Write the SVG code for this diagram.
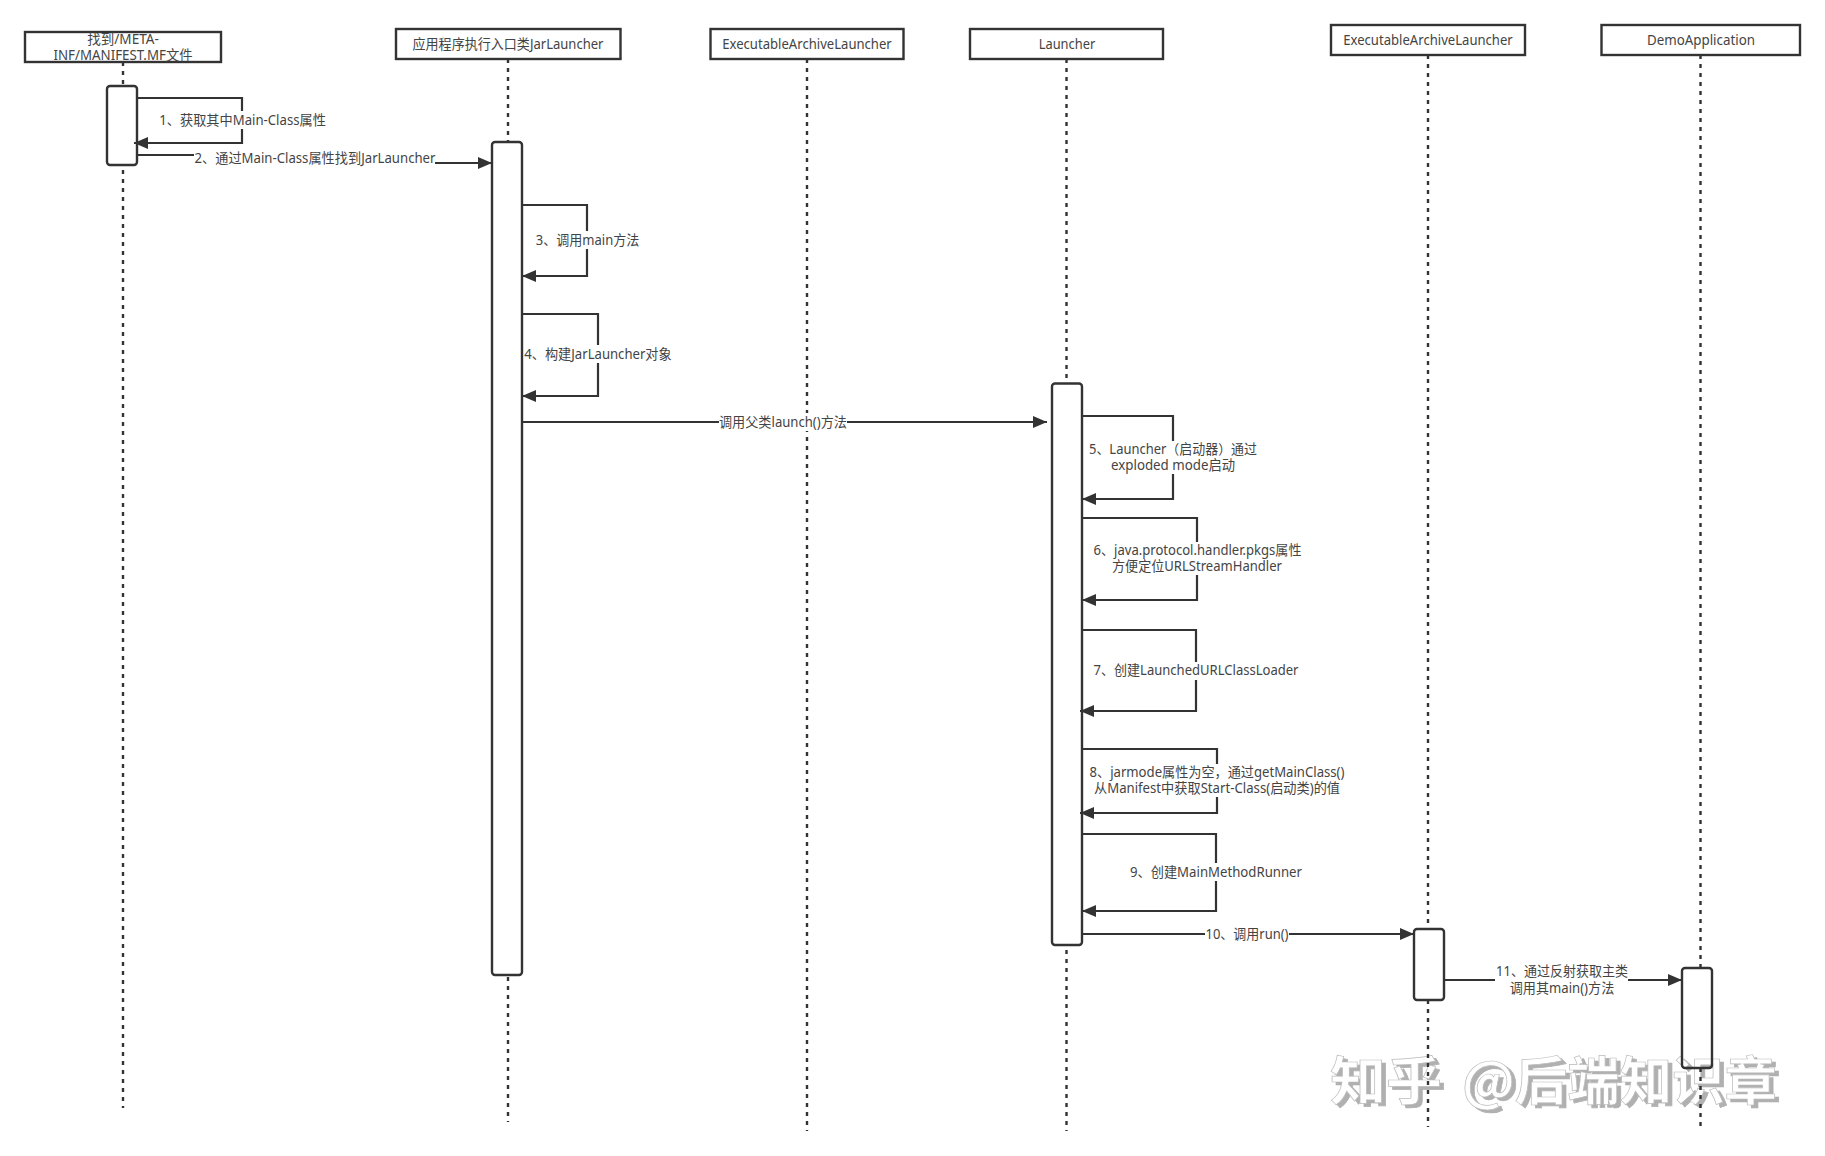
<svg xmlns="http://www.w3.org/2000/svg" width="1825" height="1156" viewBox="0 0 1825 1156">
<style>
text{font-family:"Noto Sans","Noto Sans CJK SC",sans-serif;font-size:13.5px;fill:#444;text-anchor:middle}
.box{fill:#fff;stroke:#333;stroke-width:2.4}
.act{fill:#fff;stroke:#333;stroke-width:2.4}
.life{stroke:#333;stroke-width:2.4;stroke-dasharray:4 5;fill:none}
.c{fill:none;stroke:#333;stroke-width:2.2;marker-end:url(#ah)}
.bg{fill:#fff}
text.wm{font-family:"Noto Sans CJK SC",sans-serif;font-size:52px;font-weight:700;text-anchor:start;fill:#fff;stroke:#bbb;stroke-width:0.7;filter:url(#wmshadow)}
</style>
<defs>
<marker id="ah" markerUnits="userSpaceOnUse" markerWidth="15" markerHeight="14" refX="14" refY="7" orient="auto"><path d="M0 1L14 7L0 13Z" fill="#333"/></marker>
<filter id="wmshadow" filterUnits="userSpaceOnUse" x="1320" y="1040" width="480" height="80"><feDropShadow dx="4" dy="3" stdDeviation="0" flood-color="#b0b0b0"/></filter>
</defs>
<rect width="1825" height="1156" fill="#fff"/>
<g id="watermark">
<text class="wm" y="1100"><tspan x="1330" textLength="112" lengthAdjust="spacingAndGlyphs">知乎</tspan> <tspan x="1462" textLength="315" lengthAdjust="spacingAndGlyphs">@后端知识章</tspan></text>
</g>
<g id="node-manifest">
<line class="life" x1="123" y1="62" x2="123" y2="1108"/>
<rect class="box" x="25" y="32" width="196" height="30"/>
<rect class="act" x="107" y="86" width="30" height="79" rx="3"/>
<text x="123" y="43.800" textLength="71.500" lengthAdjust="spacingAndGlyphs">找到/META-</text>
<text x="123" y="59.800" textLength="139" lengthAdjust="spacingAndGlyphs">INF/MANIFEST.MF文件</text>
</g>
<g id="node-jarlauncher">
<line class="life" x1="508" y1="59" x2="508" y2="1122"/>
<rect class="box" x="396" y="29" width="224.500" height="30"/>
<rect class="act" x="492" y="142" width="30" height="833" rx="3"/>
<text x="508" y="49" textLength="191" lengthAdjust="spacingAndGlyphs">应用程序执行入口类JarLauncher</text>
</g>
<g id="node-executable-1">
<line class="life" x1="807" y1="59" x2="807" y2="1131"/>
<rect class="box" x="710.500" y="29" width="193" height="30"/>
<text x="807" y="49" textLength="169.500" lengthAdjust="spacingAndGlyphs">ExecutableArchiveLauncher</text>
</g>
<g id="node-launcher">
<line class="life" x1="1066.500" y1="59" x2="1066.500" y2="1131"/>
<rect class="box" x="970" y="29" width="193" height="30"/>
<rect class="act" x="1052" y="383.500" width="30" height="561.500" rx="3"/>
<text x="1067" y="49" textLength="56.600" lengthAdjust="spacingAndGlyphs">Launcher</text>
</g>
<g id="node-executable-2">
<line class="life" x1="1428" y1="55" x2="1428" y2="1127"/>
<rect class="box" x="1331" y="25" width="194" height="30"/>
<rect class="act" x="1414" y="929" width="30" height="71" rx="3"/>
<text x="1428" y="45" textLength="169.500" lengthAdjust="spacingAndGlyphs">ExecutableArchiveLauncher</text>
</g>
<g id="node-demo">
<line class="life" x1="1700.500" y1="55" x2="1700.500" y2="968"/>
<line class="life" x1="1700.500" y1="1068" x2="1700.500" y2="1127"/>
<rect class="box" x="1601.500" y="25" width="198.500" height="30"/>
<rect class="act" x="1682" y="968" width="30" height="100" rx="3" style="fill:none"/>
<text x="1701" y="45" textLength="108" lengthAdjust="spacingAndGlyphs">DemoApplication</text>
</g>
<g id="connectors">
<path class="c" d="M137 98H242V143H134"/>
<path class="c" d="M137 155H315V163H492"/>
<path class="c" d="M522 205H587V276H522"/>
<path class="c" d="M522 314H598V396H522"/>
<path class="c" d="M522 422H1047"/>
<path class="c" d="M1082 416H1173V499H1082"/>
<path class="c" d="M1082 518H1197V600H1082"/>
<path class="c" d="M1082 630H1196V711H1080"/>
<path class="c" d="M1082 749H1217V813H1080"/>
<path class="c" d="M1082 834H1216V911H1082"/>
<path class="c" d="M1082 934H1414"/>
<path class="c" d="M1444 980H1682"/>
</g>
<g id="labels">
<rect class="bg" x="159" y="111" width="167" height="18"/>
<text x="242.600" y="125" textLength="166.500" lengthAdjust="spacingAndGlyphs">1、获取其中Main-Class属性</text>
<rect class="bg" x="194" y="149" width="241" height="18"/>
<text x="315" y="163" textLength="241" lengthAdjust="spacingAndGlyphs">2、通过Main-Class属性找到JarLauncher</text>
<rect class="bg" x="535" y="231" width="104" height="18"/>
<text x="587.500" y="245" textLength="103.600" lengthAdjust="spacingAndGlyphs">3、调用main方法</text>
<rect class="bg" x="524" y="345" width="148" height="18"/>
<text x="598" y="359" textLength="147.300" lengthAdjust="spacingAndGlyphs">4、构建JarLauncher对象</text>
<rect class="bg" x="719" y="413" width="128" height="18"/>
<text x="783" y="427" textLength="128" lengthAdjust="spacingAndGlyphs">调用父类launch()方法</text>
<rect class="bg" x="1089" y="441" width="168" height="33"/>
<text x="1173" y="453.800" textLength="168" lengthAdjust="spacingAndGlyphs">5、Launcher（启动器）通过</text>
<text x="1173" y="470.300" textLength="124" lengthAdjust="spacingAndGlyphs">exploded mode启动</text>
<rect class="bg" x="1093" y="542" width="209" height="33"/>
<text x="1197.500" y="554.800" textLength="208" lengthAdjust="spacingAndGlyphs">6、java.protocol.handler.pkgs属性</text>
<text x="1197" y="570.800" textLength="170" lengthAdjust="spacingAndGlyphs">方便定位URLStreamHandler</text>
<rect class="bg" x="1093" y="662" width="205" height="18"/>
<text x="1196" y="675.400" textLength="205" lengthAdjust="spacingAndGlyphs">7、创建LaunchedURLClassLoader</text>
<rect class="bg" x="1089" y="764" width="256" height="33"/>
<text x="1217" y="776.800" textLength="255" lengthAdjust="spacingAndGlyphs">8、jarmode属性为空，通过getMainClass()</text>
<text x="1217" y="792.800" textLength="246" lengthAdjust="spacingAndGlyphs">从Manifest中获取Start-Class(启动类)的值</text>
<rect class="bg" x="1130" y="863" width="172" height="18"/>
<text x="1216" y="877" textLength="172" lengthAdjust="spacingAndGlyphs">9、创建MainMethodRunner</text>
<rect class="bg" x="1205" y="925" width="84" height="18"/>
<text x="1247" y="939" textLength="83" lengthAdjust="spacingAndGlyphs">10、调用run()</text>
<rect class="bg" x="1495" y="963" width="133" height="34"/>
<text x="1562" y="975.800" textLength="132" lengthAdjust="spacingAndGlyphs">11、通过反射获取主类</text>
<text x="1562" y="992.800" textLength="104.500" lengthAdjust="spacingAndGlyphs">调用其main()方法</text>
</g>
</svg>
